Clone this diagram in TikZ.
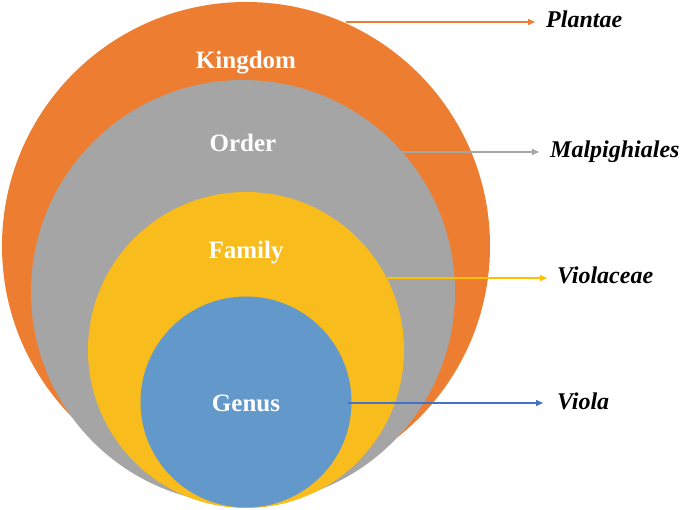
\documentclass[tikz,border=0pt]{standalone}
\usepackage{fontspec}
\setmainfont{Liberation Serif}
\usetikzlibrary{arrows.meta}
\definecolor{corange}{HTML}{ED7D31}
\definecolor{cgray}{HTML}{A5A5A5}
\definecolor{cyellow}{HTML}{F8BD1C}
\definecolor{cblue}{HTML}{6398CB}
\definecolor{lyellow}{HTML}{FFC000}
\definecolor{lblue}{HTML}{4472C4}
\begin{document}
\begin{tikzpicture}[x=1pt,y=-1pt,
  ring/.style={circle,inner sep=0pt,draw=none},
  inlabel/.style={anchor=base,text=white,font=\fontsize{25}{29}\selectfont\bfseries},
  outlabel/.style={anchor=base west,inner sep=0pt,font=\fontsize{24}{28}\selectfont\bfseries\itshape},
  link/.style={line width=1.4pt,-{Triangle[length=7pt,width=6pt]}}]
\useasboundingbox (0,0) rectangle (685,510);
\node[ring,fill=corange,minimum size=488pt] (kingdom) at (246,246) {};
\node[ring,fill=cgray,minimum size=424pt] (order) at (243,292) {};
\node[ring,fill=cyellow,minimum size=316pt] (family) at (246,350) {};
\node[ring,fill=cblue,minimum size=211pt] (genus) at (246,402) {};
\node[inlabel] (tk) at (246,69) {Kingdom};
\node[inlabel] (to) at (243,152) {Order};
\node[inlabel] (tf) at (246,259) {Family};
\node[inlabel] (tg) at (246,411) {Genus};
\node[outlabel] (pl) at (546,27.5) {Plantae};
\node[outlabel] (ma) at (550,157.5) {Malpighiales};
\node[outlabel] (vi) at (557,283.5) {Violaceae};
\node[outlabel] (vo) at (557,409) {Viola};
\coordinate (s1) at (346,22);
\coordinate (s2) at (402,152);
\coordinate (s3) at (387,278);
\coordinate (s4) at (348,403);
\draw[link,corange,shorten >=11pt] (s1) -- (s1 -| pl.west);
\draw[link,cgray,shorten >=11pt] (s2) -- (s2 -| ma.west);
\draw[link,lyellow,shorten >=10pt] (s3) -- (s3 -| vi.west);
\draw[link,lblue,shorten >=14pt] (s4) -- (s4 -| vo.west);
\end{tikzpicture}
\end{document}
